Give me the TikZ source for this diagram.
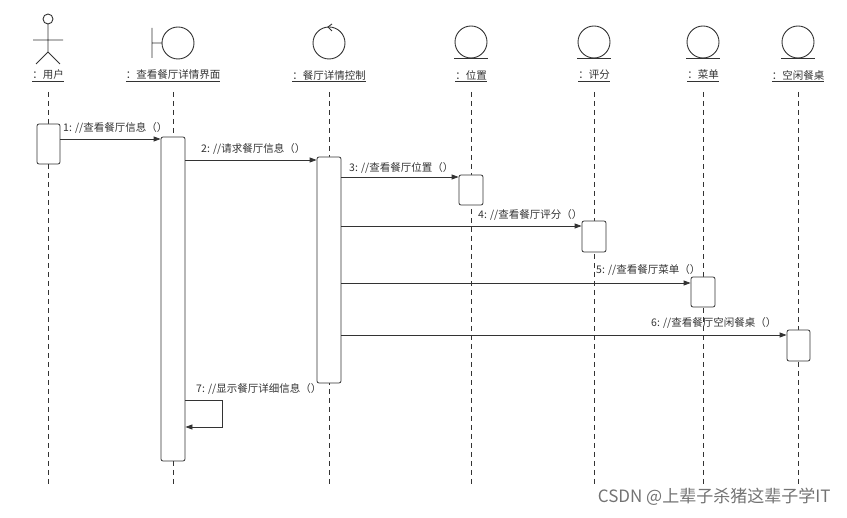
\documentclass[tikz,border=0pt]{standalone}
\usepackage{fontspec}
\setmainfont{Noto Sans CJK SC}
\usetikzlibrary{arrows.meta}
\begin{document}
\begin{tikzpicture}[x=1pt,y=-1pt,
  lbl/.style={font=\fontsize{10.5}{11}\selectfont, text=black!80, inner sep=1pt},
  life/.style={draw=black!80, dash pattern=on 5pt off 4pt, line width=0.8pt},
  act/.style={draw=black!80, fill=white, rounded corners=2pt, line width=0.8pt},
  msg/.style={draw=black!80, line width=0.8pt, -{Triangle[length=7pt,width=5pt]}},
  obj/.style={draw=black!80, line width=0.9pt}]
\useasboundingbox (0,0) rectangle (847,518);
% lifelines
\foreach \n/\x in {u/48,ui/173,c/329,p/471,s/594,m/703,t/798}{
  \coordinate (\n top) at (\x,92); \coordinate (\n bot) at (\x,487);
  \draw[life] (\n top) -- (\n bot);}
% actor
\draw[obj] (48,19) circle (5);
\draw[obj] (48,24) -- (48,52) (33,40) -- (63,40) (48,52) -- (36,64) (48,52) -- (60,64);
% boundary
\draw[obj] (178,43) circle (16) (162,43) -- (152,43) (152,28) -- (152,58);
% control
\draw[obj] (329,43) circle (16);
\draw[obj] (332,24) -- (328,27) -- (332,31);
% entities
\foreach \x in {471,594,703,798}{
  \draw[obj] (\x,42) circle (16); \draw[obj] (\x-17,58.5) -- (\x+17,58.5);}
% labels
\foreach \n/\x/\t in {u/48/用户,ui/173/查看餐厅详情界面,c/329/餐厅详情控制,p/471/位置,s/594/评分,m/703/菜单,t/798/空闲餐桌}
  \node[lbl] (l\n) at (\x,76) {\underline{：\t}};
% activations
\node[act, minimum width=23pt, minimum height=40pt] (au) at (48.5,144) {};
\node[act, minimum width=24pt, minimum height=324pt] (aui) at (173,299) {};
\node[act, minimum width=24pt, minimum height=226pt] (ac) at (329,270) {};
\node[act, minimum width=24pt, minimum height=30pt] (ap) at (471,190) {};
\node[act, minimum width=24pt, minimum height=31pt] (as) at (594,236.5) {};
\node[act, minimum width=24pt, minimum height=30pt] (am) at (703,292) {};
\node[act, minimum width=23pt, minimum height=31pt] (at) at (798.5,345.5) {};
% messages
\draw[msg] (au.east |- 0,139) -- (aui.west |- 0,139);
\node[lbl, anchor=west] (m1) at (62,128) {1: //查看餐厅信息（）};
\draw[msg] (aui.east |- 0,160) -- (ac.west |- 0,160);
\node[lbl, anchor=west] (m2) at (200,149) {2: //请求餐厅信息（）};
\draw[msg] (ac.east |- 0,177) -- (ap.west |- 0,177);
\node[lbl, anchor=west] (m3) at (348,168) {3: //查看餐厅位置（）};
\draw[msg] (ac.east |- 0,226) -- (as.west |- 0,226);
\node[lbl, anchor=west] (m4) at (477,215) {4: //查看餐厅评分（）};
\draw[msg] (ac.east |- 0,283) -- (am.west |- 0,283);
\node[lbl, anchor=west] (m5) at (595,270) {5: //查看餐厅菜单（）};
\draw[msg] (ac.east |- 0,335) -- (at.west |- 0,335);
\node[lbl, anchor=west] (m6) at (650,323) {6: //查看餐厅空闲餐桌（）};
\draw[msg] (aui.east |- 0,400) -- (222,400) -- (222,427) -- (aui.east |- 0,427);
\node[lbl, anchor=west] (m7) at (195,389) {7: //显示餐厅详细信息（）};
\node[font=\fontsize{17}{18}\selectfont, text=black!55, anchor=east] (wm) at (834,497) {CSDN @上辈子杀猪这辈子学IT};
\end{tikzpicture}
\end{document}
